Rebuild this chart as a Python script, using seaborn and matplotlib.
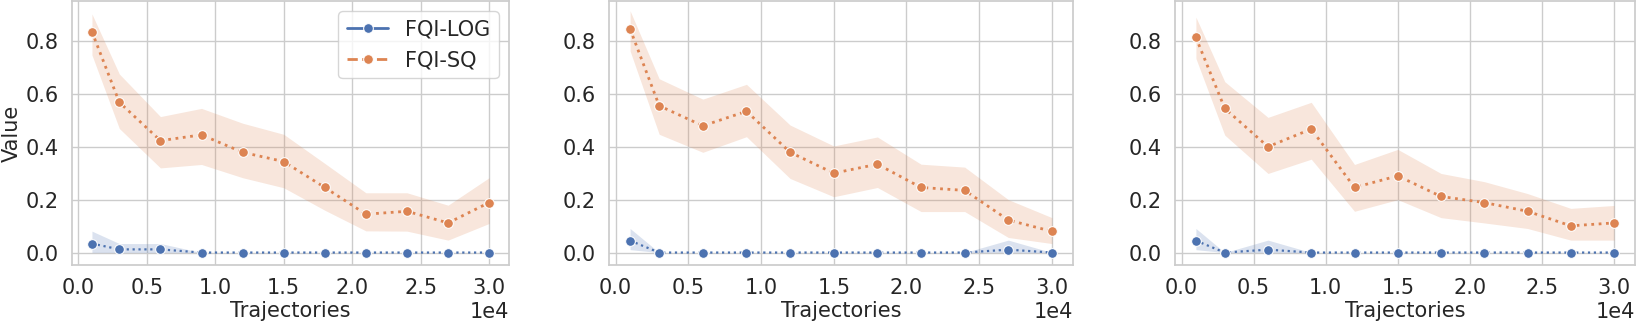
import numpy as np
import pandas as pd
import matplotlib
matplotlib.use('Agg')
import matplotlib.pyplot as plt
import seaborn as sns
from matplotlib.lines import Line2D

sns.set_theme(style='whitegrid')
plt.rcParams['font.family'] = ['DejaVu Sans']

trajectories = [1000, 3000, 6000, 9000, 12000, 15000, 18000, 21000, 24000, 27000, 30000]

# panel 1
p1_log_mean = [0.034, 0.012, 0.012, 0.0, 0.0, 0.0, 0.0, 0.0, 0.0, 0.0, 0.0]
p1_log_low = [0.0, 0.0, 0.0, 0.0, 0.0, 0.0, 0.0, 0.0, 0.0, 0.0, 0.0]
p1_log_high = [0.081, 0.034, 0.034, 0.0, 0.0, 0.0, 0.0, 0.0, 0.0, 0.0, 0.0]
p1_sq_mean = [0.835, 0.568, 0.423, 0.445, 0.379, 0.344, 0.246, 0.145, 0.156, 0.112, 0.189]
p1_sq_low = [0.747, 0.469, 0.320, 0.333, 0.283, 0.245, 0.160, 0.082, 0.081, 0.047, 0.110]
p1_sq_high = [0.902, 0.675, 0.514, 0.545, 0.489, 0.447, 0.337, 0.226, 0.226, 0.179, 0.283]

# panel 2
p2_log_mean = [0.045, 0.0, 0.0, 0.0, 0.0, 0.0, 0.0, 0.0, 0.0, 0.011, 0.0]
p2_log_low = [0.011, 0.0, 0.0, 0.0, 0.0, 0.0, 0.0, 0.0, 0.0, 0.0, 0.0]
p2_log_high = [0.091, 0.0, 0.0, 0.0, 0.0, 0.0, 0.0, 0.0, 0.0, 0.047, 0.0]
p2_sq_mean = [0.845, 0.555, 0.479, 0.534, 0.379, 0.300, 0.334, 0.246, 0.235, 0.123, 0.080]
p2_sq_low = [0.762, 0.447, 0.379, 0.438, 0.280, 0.211, 0.246, 0.155, 0.155, 0.057, 0.034]
p2_sq_high = [0.914, 0.657, 0.580, 0.636, 0.482, 0.403, 0.437, 0.334, 0.323, 0.200, 0.132]

# panel 3
p3_log_mean = [0.045, 0.0, 0.011, 0.0, 0.0, 0.0, 0.0, 0.0, 0.0, 0.0, 0.0]
p3_log_low = [0.011, 0.0, 0.0, 0.0, 0.0, 0.0, 0.0, 0.0, 0.0, 0.0, 0.0]
p3_log_high = [0.091, 0.0, 0.047, 0.0, 0.0, 0.0, 0.0, 0.0, 0.0, 0.0, 0.0]
p3_sq_mean = [0.813, 0.545, 0.400, 0.467, 0.246, 0.290, 0.212, 0.189, 0.156, 0.101, 0.112]
p3_sq_low = [0.734, 0.444, 0.299, 0.353, 0.156, 0.200, 0.132, 0.112, 0.091, 0.047, 0.047]
p3_sq_high = [0.890, 0.646, 0.511, 0.568, 0.333, 0.390, 0.299, 0.268, 0.223, 0.167, 0.178]

methods = ['FQI-LOG', 'FQI-SQ']
colors = sns.color_palette('deep')[:2]
widths = {'FQI-LOG': 1.6, 'FQI-SQ': 2.0}

panels = [
    ((p1_log_mean, p1_log_low, p1_log_high), (p1_sq_mean, p1_sq_low, p1_sq_high)),
    ((p2_log_mean, p2_log_low, p2_log_high), (p2_sq_mean, p2_sq_low, p2_sq_high)),
    ((p3_log_mean, p3_log_low, p3_log_high), (p3_sq_mean, p3_sq_low, p3_sq_high)),
]

fig = plt.figure(figsize=(16.42, 3.21), dpi=100)
positions = [[0.0439, 0.1745, 0.2661, 0.8224],
             [0.3709, 0.1745, 0.2826, 0.8224],
             [0.7156, 0.1745, 0.2801, 0.8224]]

FS = 15
for k, (pos, series) in enumerate(zip(positions, panels)):
    ax = fig.add_axes(pos)
    rows = []
    for name, (mean, low, high) in zip(methods, series):
        for x, m in zip(trajectories, mean):
            rows.append({'Trajectories': x, 'Value': m, 'method': name})
    df = pd.DataFrame(rows)
    sns.lineplot(data=df, x='Trajectories', y='Value', hue='method', palette=colors,
                 size='method', sizes=widths,
                 marker='o', markersize=7, markeredgecolor='white', markeredgewidth=0.75,
                 linestyle=':', errorbar=None, legend=False, ax=ax)
    for c, (mean, low, high) in zip(colors, series):
        ax.fill_between(trajectories, low, high, color=c, alpha=0.2, linewidth=0)
    ax.set_ylim(-0.047, 0.951)
    ax.set_yticks([0.0, 0.2, 0.4, 0.6, 0.8])
    ax.set_xticks([0, 5000, 10000, 15000, 20000, 25000, 30000])
    ax.ticklabel_format(axis='x', style='sci', scilimits=(0, 0))
    ax.xaxis.get_offset_text().set_fontsize(FS)
    ax.tick_params(labelsize=FS)
    ax.set_xlabel('Trajectories', fontsize=FS, labelpad=2)
    if k == 0:
        ax.set_ylabel('Value', fontsize=FS, labelpad=2.5)
        handles = [Line2D([], [], color=colors[0], linestyle='-', marker='o', markersize=7,
                          markeredgecolor='white', markeredgewidth=0.75, linewidth=2),
                   Line2D([], [], color=colors[1], linestyle='--', marker='o', markersize=7,
                          markeredgecolor='white', markeredgewidth=0.75, linewidth=2)]
        ax.legend(handles, methods, loc='upper right', fontsize=FS)
    else:
        ax.set_ylabel('')

fig.savefig('out.png', dpi=100)
